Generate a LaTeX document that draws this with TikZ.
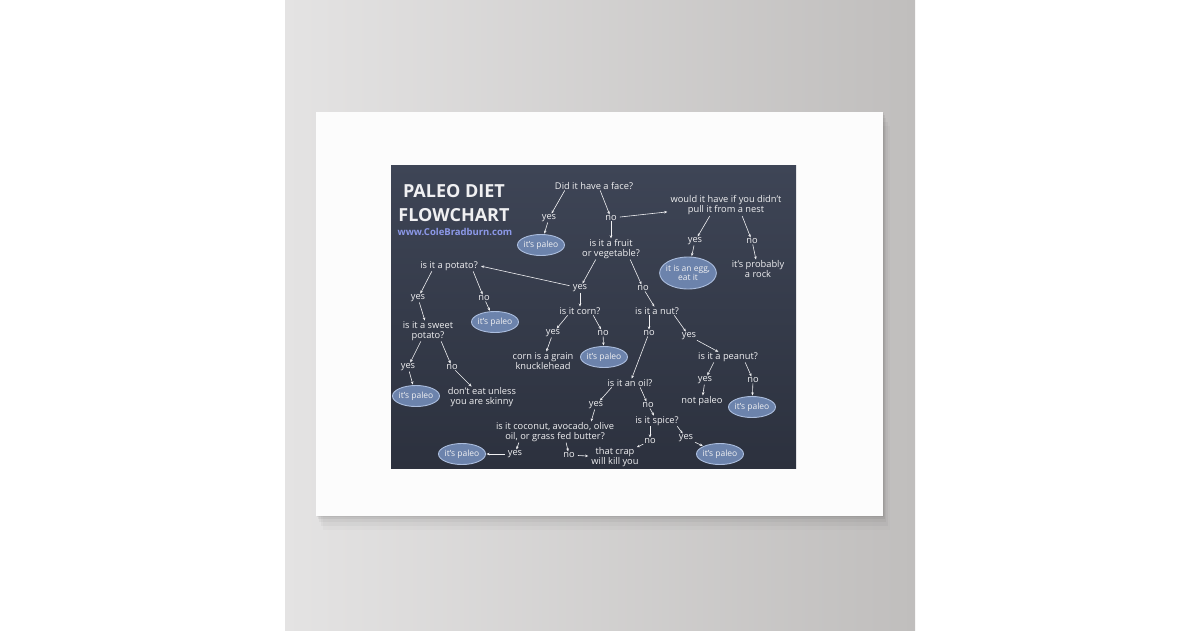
\documentclass[tikz,border=0pt]{standalone}
\usepackage{fontspec}
\setmainfont{Open Sans}
\usetikzlibrary{shapes.geometric,arrows.meta}
\definecolor{chalk}{RGB}{240,240,242}
\definecolor{board}{RGB}{62,69,86}
\definecolor{boardDark}{RGB}{44,49,62}
\definecolor{oval}{RGB}{108,131,172}
\definecolor{ovalRim}{RGB}{172,190,222}
\definecolor{link}{RGB}{140,152,232}
\definecolor{wallLight}{RGB}{228,227,227}
\definecolor{wallDark}{RGB}{192,190,189}

\tikzset{
	txt/.style={text=chalk, font=\fontsize{9.3}{10}\selectfont, align=center, inner xsep=2.5pt, inner ysep=0.2pt},
	title/.style={text=chalk, font=\bfseries\fontsize{18}{19}\selectfont, inner sep=0pt},
	paleo/.style={ellipse, fill=oval, draw=ovalRim, line width=0.9pt, text=chalk, font=\fontsize{8.5}{9.5}\selectfont, align=center, minimum width=47pt, minimum height=21pt, inner sep=-2pt},
	arr/.style={->, >={Stealth[length=3.2pt,width=2.6pt]}, draw=chalk, line width=0.6pt, shorten >=0.5pt, shorten <=0.5pt}
}

\begin{document}
\begin{tikzpicture}[x=1pt, y=-1pt]
				\useasboundingbox (0,0) rectangle (1200,630);
				\fill[white] (0,0) rectangle (1200,630);
				\shade[left color=wallLight, right color=wallDark] (285,0) rectangle (915,630);
				% poster and its shadow
				\foreach \d/\o in {1/0.05, 3/0.05, 6/0.04, 10/0.03, 14/0.02} {
					\fill[black, opacity=\o] (316+\d/2,112+\d) rectangle (883+\d/2,516+\d);
				}
				\fill[white!98!gray] (316,112) rectangle (883,516);
				\shade[top color=board, bottom color=boardDark] (391,165) rectangle (796,468);
				
				\node[title] (headA) at (454,191) {PALEO DIET};
				\node[title] (headB) at (454,215) {FLOWCHART};
				\node[font=\bfseries\fontsize{9.5}{10}\selectfont, text=link, inner sep=0pt] (site) at (455,232) {www.ColeBradburn.com};
				
				\node[txt] (face) at (594,186) {Did it have a face?};
				\node[txt] (faceYes) at (549,218) {yes};
				\node[txt] (faceNo) at (611,218) {no};
				\node[paleo] (paleoA) at (541,245) {it's paleo};
				\node[txt] (nest) at (726,205.5) {would it have if you didn't\\pull it from a nest};
				\node[txt] (nestYes) at (695,241) {yes};
				\node[txt] (nestNo) at (752,241) {no};
				\node[paleo, minimum width=56pt, minimum height=32pt] (egg) at (688,273) {it is an egg,\\eat it};
				\node[txt] (rock) at (758,269) {it's probably\\a rock};
				\node[txt] (fruit) at (611,249) {is it a fruit\\or vegetable?};
				\node[txt] (fruitYes) at (580,288) {yes};
				\node[txt] (fruitNo) at (643,288) {no};
				\node[txt] (potato) at (449,266) {is it a potato?};
				\node[txt] (potatoYes) at (418,298) {yes};
				\node[txt] (potatoNo) at (484,298) {no};
				\node[paleo] (paleoB) at (495,322) {it's paleo};
				\node[txt] (sweet) at (428,331) {is it a sweet\\potato?};
				\node[txt] (sweetYes) at (408,367) {yes};
				\node[txt] (sweetNo) at (452,367) {no};
				\node[paleo] (paleoC) at (416,396) {it's paleo};
				\node[txt] (skinny) at (482,397) {don't eat unless\\you are skinny};
				\node[txt] (corn) at (580,311) {is it corn?};
				\node[txt] (cornYes) at (553,333) {yes};
				\node[txt] (cornNo) at (603,333) {no};
				\node[txt] (grain) at (543,361) {corn is a grain\\knucklehead};
				\node[paleo] (paleoD) at (604,357) {it's paleo};
				\node[txt] (nut) at (657,311) {is it a nut?};
				\node[txt] (nutNo) at (649,333) {no};
				\node[txt] (nutYes) at (689,336) {yes};
				\node[txt] (peanut) at (728,357) {is it a peanut?};
				\node[txt] (peanutYes) at (705,380) {yes};
				\node[txt] (peanutNo) at (753,380) {no};
				\node[txt] (notPaleo) at (702,401) {not paleo};
				\node[paleo] (paleoE) at (752,407) {it's paleo};
				\node[txt] (oil) at (630,383) {is it an oil?};
				\node[txt] (oilYes) at (596,405) {yes};
				\node[txt] (oilNo) at (648,405) {no};
				\node[txt] (butter) at (555,432) {is it coconut, avocado, olive\\oil, or grass fed butter?};
				\node[txt] (spice) at (657,421) {is it spice?};
				\node[txt] (spiceNo) at (650,441) {no};
				\node[txt] (spiceYes) at (686,438) {yes};
				\node[paleo] (paleoF) at (720,454) {it's paleo};
				\node[paleo] (paleoG) at (462,454) {it's paleo};
				\node[txt] (butterYes) at (515,454) {yes};
				\node[txt] (butterNo) at (569,455) {no};
				\node[txt] (crap) at (615,457.5) {that crap\\will kill you};
				
				\draw[arr] ([xshift=-29pt]face.south) -- (faceYes);
				\draw[arr] ([xshift=6pt]face.south) -- (faceNo);
				\draw[arr] (faceYes) -- (paleoA);
				\draw[arr] (faceNo) -- (nest);
				\draw[arr] (faceNo) -- (fruit);
				\draw[arr] ([xshift=-16pt]nest.south) -- (nestYes);
				\draw[arr] ([xshift=16pt]nest.south) -- (nestNo);
				\draw[arr] (nestYes) -- (egg);
				\draw[arr] (nestNo) -- (rock);
				\draw[arr] ([xshift=-15pt]fruit.south) -- (fruitYes);
				\draw[arr] ([xshift=19pt]fruit.south) -- (fruitNo);
				\draw[arr] (fruitYes) -- (potato.east);
				\draw[arr] (fruitYes) -- (corn);
				\draw[arr] (fruitNo) -- (nut);
				\draw[arr] ([xshift=-17pt]potato.south) -- (potatoYes);
				\draw[arr] ([xshift=24pt]potato.south) -- (potatoNo);
				\draw[arr] (potatoYes) -- (sweet);
				\draw[arr] (potatoNo) -- (paleoB);
				\draw[arr] ([xshift=-7pt]sweet.south) -- (sweetYes);
				\draw[arr] ([xshift=13pt]sweet.south) -- (sweetNo);
				\draw[arr] (sweetYes) -- (paleoC);
				\draw[arr] (sweetNo) -- (skinny);
				\draw[arr] ([xshift=-12pt]corn.south) -- (cornYes);
				\draw[arr] ([xshift=13pt]corn.south) -- (cornNo);
				\draw[arr] (cornYes) -- (grain);
				\draw[arr] (cornNo) -- (paleoD);
				\draw[arr] ([xshift=-8pt]nut.south) -- (nutNo);
				\draw[arr] ([xshift=17pt]nut.south) -- (nutYes);
				\draw[arr] (nutYes) -- (peanut);
				\draw[arr] (nutNo) -- (oil);
				\draw[arr] ([xshift=-14pt]peanut.south) -- (peanutYes);
				\draw[arr] ([xshift=17pt]peanut.south) -- (peanutNo);
				\draw[arr] (peanutYes) -- (notPaleo);
				\draw[arr] (peanutNo) -- (paleoE);
				\draw[arr] ([xshift=-18pt]oil.south) -- (oilYes);
				\draw[arr] ([xshift=10pt]oil.south) -- (oilNo);
				\draw[arr] (oilYes) -- ([xshift=36pt]butter.north);
				\draw[arr] (oilNo) -- (spice);
				\draw[arr] ([xshift=-36pt]butter.south) -- (butterYes);
				\draw[arr] ([xshift=11pt]butter.south) -- (butterNo);
				\draw[arr] (butterYes) -- (paleoG);
				\draw[arr] (butterNo) -- (crap);
				\draw[arr] ([xshift=-7pt]spice.south) -- (spiceNo);
				\draw[arr] ([xshift=20pt]spice.south) -- (spiceYes);
				\draw[arr] (spiceYes) -- (paleoF);
				\draw[arr] (spiceNo) -- (crap);
				
			\end{tikzpicture}
\end{document}
